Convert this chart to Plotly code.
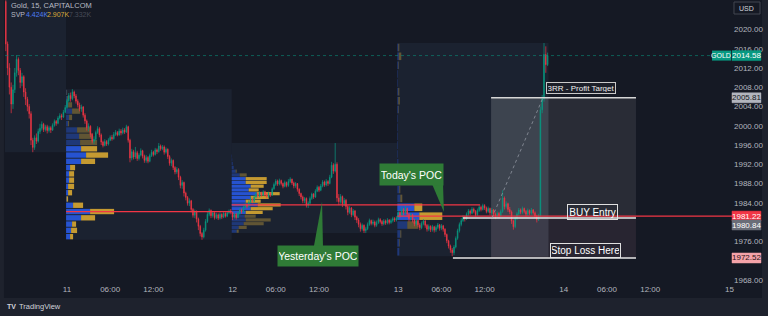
import plotly.graph_objects as go

# ---------------- price data: 15-minute bars ----------------
first_open = 2025.8

d10_close = [2017.0, 2012.0, 2008.0, 2004.5, 2007.5, 2011.0, 2013.8, 2011.5, 2009.0, 2010.2,
             2007.0, 2005.5, 2004.0, 2002.5, 1997.0, 1995.5, 1997.5, 1996.8, 1998.8, 1999.5,
             2000.3, 1999.2, 1999.8, 1999.0, 1999.6, 1999.1, 2000.1, 2000.9, 2000.5, 2001.6,
             2002.1, 2001.8, 2002.8, 2003.8]
d10_high = [2026.1, 2017.5, 2013.0, 2009.0, 2008.5, 2012.0, 2014.7, 2014.2, 2012.0, 2011.0,
            2010.5, 2007.8, 2006.0, 2004.5, 2003.0, 1997.5, 1998.0, 1998.4, 1999.4, 2000.4,
            2000.9, 2000.6, 2000.2, 2000.2, 2000.0, 1999.9, 2000.5, 2001.3, 2001.2, 2002.0,
            2002.6, 2002.5, 2003.3, 2004.3]
d10_low = [2015.5, 2010.5, 2006.5, 2002.6, 2003.5, 2006.8, 2010.2, 2010.5, 2007.8, 2008.2,
           2006.0, 2004.3, 2003.0, 2001.5, 1996.0, 1994.5, 1995.0, 1996.2, 1996.5, 1998.3,
           1999.0, 1998.7, 1998.8, 1998.4, 1998.6, 1998.5, 1998.9, 1999.8, 2000.0, 2000.3,
           2001.3, 2001.2, 2001.6, 2002.6]

d11_close = [2005.2, 2006.3, 2005.6, 2007.0, 2006.2, 2005.1, 2004.3, 2003.5, 2003.9, 2002.2,
             2001.0, 1999.6, 1999.9, 1998.2, 1996.8, 1997.2, 1998.6, 1999.4, 1998.1, 1996.6,
             1995.9, 1996.7, 1996.2, 1997.0, 1997.6, 1997.3, 1998.2, 1998.6, 1998.1, 1998.9,
             1998.5, 1999.1, 1998.7, 1999.8, 1997.0, 1993.3, 1994.6, 1993.5, 1994.4, 1993.2,
             1993.9, 1994.8, 1993.7, 1992.8, 1993.4, 1992.6, 1993.8, 1994.5, 1994.0, 1995.0,
             1994.6, 1995.8, 1995.2, 1995.6, 1994.5, 1995.1, 1993.6, 1992.2, 1992.8, 1991.3,
             1990.4, 1990.9, 1989.3, 1987.6, 1988.2, 1986.0, 1985.1, 1983.9, 1984.4, 1982.6,
             1981.4, 1982.2, 1980.6, 1979.1, 1977.6, 1976.9, 1978.3, 1980.1, 1981.6, 1982.4,
             1981.3, 1981.9, 1980.9, 1981.5, 1980.8, 1981.6, 1981.0, 1981.8, 1981.2, 1981.9,
             1982.3, 1982.0]
d11_high = [2005.6, 2006.8, 2006.9, 2007.6, 2007.3, 2006.6, 2005.5, 2004.8, 2004.4, 2004.1,
            2002.6, 2001.3, 2000.5, 2000.1, 1998.5, 1997.8, 1999.0, 1999.9, 1999.7, 1998.4,
            1996.9, 1997.2, 1997.0, 1997.4, 1998.0, 1998.1, 1998.7, 1999.1, 1998.9, 1999.4,
            1999.3, 1999.6, 1999.5, 2000.2, 2000.0, 1997.3, 1995.2, 1995.0, 1995.6, 1994.8,
            1994.3, 1995.3, 1995.0, 1994.0, 1993.9, 1993.7, 1994.2, 1995.0, 1994.8, 1995.4,
            1995.3, 1996.4, 1996.1, 1996.0, 1995.9, 1995.5, 1995.3, 1993.9, 1993.2, 1993.0,
            1991.6, 1991.4, 1991.2, 1989.6, 1988.7, 1988.4, 1986.3, 1985.4, 1984.9, 1984.6,
            1982.9, 1982.6, 1982.4, 1980.9, 1979.4, 1977.9, 1978.8, 1980.6, 1982.2, 1982.8,
            1982.6, 1982.3, 1982.1, 1981.9, 1981.8, 1982.0, 1981.8, 1982.2, 1982.0, 1982.3,
            1982.6, 1982.7]
d11_low = [2003.5, 2004.9, 2005.0, 2005.3, 2005.7, 2004.6, 2003.8, 2003.0, 2002.9, 2001.7,
           2000.4, 1999.0, 1998.9, 1997.6, 1996.3, 1996.2, 1996.9, 1998.3, 1997.6, 1996.0,
           1995.5, 1995.7, 1995.8, 1995.9, 1996.8, 1996.9, 1997.1, 1997.9, 1997.8, 1997.9,
           1998.0, 1998.2, 1998.3, 1998.5, 1996.5, 1992.4, 1992.8, 1993.0, 1993.1, 1992.7,
           1992.8, 1993.6, 1993.2, 1992.3, 1992.3, 1992.2, 1992.4, 1993.5, 1993.6, 1993.8,
           1994.1, 1994.4, 1994.8, 1994.9, 1994.0, 1994.2, 1993.1, 1991.7, 1991.6, 1990.8,
           1989.9, 1990.0, 1988.7, 1987.0, 1986.9, 1985.3, 1984.5, 1983.4, 1983.3, 1982.0,
           1980.9, 1980.8, 1979.9, 1978.3, 1977.0, 1976.3, 1976.6, 1978.0, 1979.8, 1981.2,
           1980.8, 1980.9, 1980.5, 1980.6, 1980.4, 1980.5, 1980.6, 1980.8, 1980.9, 1981.0,
           1981.6, 1981.6]

d12_close = [1981.0, 1981.6, 1980.9, 1981.8, 1982.5, 1982.1, 1983.0, 1983.6, 1983.2, 1984.1,
             1984.7, 1984.3, 1985.2, 1985.8, 1985.4, 1986.1, 1985.6, 1986.3, 1985.7, 1985.3,
             1986.0, 1985.6, 1986.9, 1987.8, 1988.5, 1987.9, 1988.6, 1988.0, 1987.4, 1988.2,
             1987.6, 1988.4, 1988.9, 1988.1, 1987.5, 1988.0, 1986.8, 1985.9, 1985.2, 1984.4,
             1984.9, 1983.5, 1983.9, 1984.9, 1985.8, 1985.2, 1986.4, 1987.2, 1986.6, 1987.5,
             1988.3, 1987.7, 1988.4, 1988.0, 1989.3, 1991.8, 1990.6, 1992.0, 1985.0, 1984.2,
             1985.3, 1983.8, 1984.5, 1983.2, 1982.0, 1982.9, 1981.5, 1982.3, 1981.0, 1980.4,
             1979.5, 1978.6, 1979.3, 1978.2, 1978.6, 1979.5, 1980.3, 1979.7, 1980.0, 1979.3,
             1979.9, 1980.5, 1980.1, 1979.6, 1980.2, 1979.8, 1980.4, 1979.9, 1980.3, 1980.7,
             1980.4, 1980.8]
d12_high = [1982.1, 1982.0, 1981.9, 1982.2, 1982.9, 1982.8, 1983.4, 1984.0, 1983.9, 1984.5,
            1985.1, 1985.0, 1985.6, 1986.2, 1986.1, 1986.4, 1986.3, 1986.6, 1986.5, 1986.0,
            1986.3, 1986.2, 1987.2, 1988.2, 1988.9, 1988.8, 1989.0, 1988.8, 1988.2, 1988.6,
            1988.4, 1988.9, 1989.3, 1989.0, 1988.4, 1988.3, 1988.1, 1987.0, 1986.1, 1985.5,
            1985.2, 1985.1, 1984.3, 1985.3, 1986.1, 1986.0, 1986.8, 1987.6, 1987.5, 1987.9,
            1988.7, 1988.6, 1988.9, 1988.7, 1989.8, 1992.5, 1992.2, 1996.4, 1992.4, 1985.8,
            1985.8, 1985.5, 1985.0, 1984.8, 1983.5, 1983.3, 1983.1, 1982.7, 1982.5, 1981.3,
            1980.8, 1979.9, 1979.7, 1979.5, 1979.0, 1979.9, 1980.7, 1980.5, 1980.5, 1980.3,
            1980.3, 1980.9, 1980.8, 1980.4, 1980.6, 1980.5, 1980.8, 1980.6, 1980.7, 1981.1,
            1981.0, 1981.2]
d12_low = [1980.4, 1980.7, 1980.5, 1980.8, 1981.5, 1981.7, 1981.9, 1982.8, 1982.8, 1983.0,
           1983.9, 1983.9, 1984.1, 1984.9, 1985.0, 1985.1, 1985.2, 1985.4, 1985.3, 1984.9,
           1985.0, 1985.2, 1985.4, 1986.7, 1987.5, 1987.5, 1987.6, 1987.6, 1987.0, 1987.2,
           1987.2, 1987.3, 1988.1, 1987.7, 1987.0, 1987.1, 1986.3, 1985.4, 1984.7, 1983.9,
           1983.9, 1983.0, 1982.9, 1983.6, 1984.6, 1984.8, 1985.0, 1986.2, 1986.2, 1986.4,
           1987.2, 1987.3, 1987.4, 1987.5, 1987.8, 1989.1, 1990.0, 1990.3, 1984.2, 1983.5,
           1983.8, 1983.1, 1983.3, 1982.6, 1981.4, 1981.7, 1981.0, 1981.2, 1980.4, 1979.8,
           1978.9, 1978.0, 1978.2, 1977.7, 1977.7, 1978.3, 1979.2, 1979.3, 1979.3, 1978.9,
           1979.0, 1979.6, 1979.7, 1979.2, 1979.3, 1979.4, 1979.5, 1979.5, 1979.6, 1979.9,
           1980.0, 1980.1]

d13_close = [1982.0, 1981.4, 1982.6, 1981.9, 1982.8, 1981.6, 1980.7, 1981.5, 1980.4, 1979.6,
             1980.3, 1979.4, 1978.8, 1979.7, 1980.2, 1979.3, 1978.5, 1979.1, 1978.4, 1979.0,
             1978.3, 1978.9, 1979.4, 1978.7, 1979.2, 1978.5, 1977.4, 1976.1, 1975.0, 1974.2,
             1973.6, 1974.8, 1976.6, 1978.2, 1979.5, 1980.3, 1981.0, 1980.6, 1981.6, 1982.3,
             1981.8, 1982.7, 1982.2, 1981.5, 1982.4, 1983.1, 1982.6, 1983.4, 1982.9, 1982.2,
             1982.8, 1981.9, 1982.5, 1981.6, 1981.1, 1981.8, 1981.3, 1982.2, 1985.0, 1983.2,
             1983.8, 1982.6, 1982.1, 1980.2, 1979.0, 1980.8, 1981.7, 1982.5, 1982.0, 1982.8,
             1982.2, 1981.6, 1982.4, 1981.8, 1982.5, 1981.9, 1981.2, 1980.5, 1981.3, 2003.3,
             2005.6, 2014.8, 2012.7, 2014.58]
d13_high = [1982.5, 1982.3, 1983.2, 1982.9, 1983.4, 1983.0, 1981.9, 1981.9, 1981.7, 1980.7,
            1980.7, 1980.5, 1979.8, 1980.1, 1980.6, 1980.4, 1979.6, 1979.5, 1979.3, 1979.4,
            1979.2, 1979.3, 1979.8, 1979.6, 1979.6, 1979.4, 1978.7, 1977.6, 1976.3, 1975.3,
            1974.6, 1975.2, 1977.0, 1978.6, 1979.9, 1980.8, 1981.4, 1981.3, 1982.0, 1982.7,
            1982.6, 1983.1, 1983.0, 1982.5, 1982.8, 1983.5, 1983.4, 1983.8, 1983.7, 1983.2,
            1983.2, 1983.0, 1982.9, 1982.7, 1982.0, 1982.2, 1982.1, 1982.6, 1986.6, 1985.3,
            1984.3, 1984.0, 1983.1, 1982.4, 1980.5, 1981.2, 1982.1, 1982.9, 1982.8, 1983.2,
            1983.0, 1982.5, 1982.8, 1982.6, 1982.9, 1982.7, 1982.2, 1981.5, 1981.7, 2004.0,
            2006.4, 2017.2, 2016.5, 2015.2]
d13_low = [1980.5, 1980.9, 1981.2, 1981.4, 1981.6, 1981.0, 1980.1, 1980.3, 1979.9, 1979.1,
           1979.2, 1978.9, 1978.3, 1978.5, 1979.3, 1978.8, 1978.0, 1978.1, 1977.9, 1978.0,
           1977.8, 1977.9, 1978.5, 1978.2, 1978.3, 1978.0, 1976.9, 1975.6, 1974.5, 1973.6,
           1972.9, 1973.1, 1974.5, 1976.3, 1977.8, 1979.1, 1980.0, 1980.1, 1980.4, 1981.3,
           1981.4, 1981.6, 1981.8, 1981.1, 1981.3, 1982.1, 1982.2, 1982.4, 1982.5, 1981.8,
           1981.9, 1981.4, 1981.5, 1981.1, 1980.6, 1980.9, 1980.8, 1981.0, 1981.9, 1982.6,
           1982.8, 1982.1, 1981.6, 1979.6, 1978.4, 1978.7, 1980.4, 1981.3, 1981.6, 1981.7,
           1981.8, 1981.1, 1981.3, 1981.4, 1981.5, 1981.5, 1980.8, 1979.9, 1980.2, 1981.0,
           2002.6, 2005.0, 2011.0, 2012.4]

d10_session_high = 2031.0   # high of the 10th session (above the visible range)

# ---------------- session volume profiles (24 rows, top row first) ----------------
d11_up = [0.5, 1, 2, 6, 3, 2, 11, 13, 14, 15, 20, 15, 4, 3, 3, 2, 2, 0.5, 7, 24, 15, 6, 5, 4]
d11_dn = [0.5, 1, 4, 8, 3, 1, 13, 13, 17, 16, 22, 14, 5, 5, 5, 6, 4, 1.5, 10, 24, 14, 4, 6, 3]
d12_up = [0, 0, 0, 0.3, 0.5, 1, 2, 4, 8, 14, 14, 19, 17, 25, 19, 14, 26, 19, 14, 13, 14, 12, 7, 5]
d12_dn = [0, 0, 0, 0, 0, 0, 0, 1, 7, 21, 21, 13, 10, 23, 18, 15, 23, 22, 17, 11, 25, 20, 8, 2]
d13_up = [1, 1.5, 1, 0.5, 0.5, 1, 1, 1, 0.5, 0.5, 0.5, 0.5, 0.5, 1, 1, 1.5, 2, 3, 17, 22, 10, 3, 2, 2]
d13_dn = [1, 2.5, 0.5, 0, 0, 1, 1.5, 0.5, 0, 0, 0, 0, 0, 0, 0.5, 0.5, 1, 2, 8, 23, 11, 1, 0.5, 0]
value_area_rows = [(9, 23), (9, 18), (18, 19)]

svp_up_total, svp_dn_total, svp_total = "4.424K", "2.907K", "7.332K"

# ---------------- levels / labels ----------------
last_price = 2014.58
target_price = 2005.81
today_poc = 1981.22
entry_price = 1980.84
stop_price = 1972.52

tick_labels = ["11", "06:00", "12:00", "12", "06:00", "12:00", "13", "06:00", "12:00",
               "14", "06:00", "12:00", "15"]
tick_hours = [0, 6, 12]
price_ticks = [1968, 1976, 1984, 1988, 1992, 1996, 2000, 2004, 2008, 2012, 2016, 2020]

# ---------------- style ----------------
BG = "#151924"
FRAME = "#1e222d"
UP = "#089981"
DN = "#f23645"
TXT = "#b2b5be"
AXF = "Liberation Sans Narrow, Arial Narrow, sans-serif"
CF = "Liberation Sans, Arial, sans-serif"
BARS_PER_SESSION = 92
BARS_PER_HOUR = 4
VOL_SCALE = 1 / 1.8
X_RANGE = [-0.44, 404.0]
Y_RANGE = [1967.32, 2026.13]

# ---------------- build series ----------------
closes = d10_close + d11_close + d12_close + d13_close
highs = d10_high + d11_high + d12_high + d13_high
lows = d10_low + d11_low + d12_low + d13_low
opens = [first_open] + closes[:-1]
bars = list(range(len(closes)))

sizes = [len(d10_close), len(d11_close), len(d12_close), len(d13_close)]
starts = [sum(sizes[:i]) for i in range(4)]
ends = [starts[i] + sizes[i] for i in range(4)]

fig = go.Figure()
shapes = []
annotations = []

# pane background (covers price/time axis areas)
shapes.append(dict(type="rect", xref="paper", yref="paper", x0=-0.0014, x1=1.0398,
                   y0=-0.053, y1=1.0, fillcolor=BG, line_width=0, layer="below"))

# session boxes
for i in range(4):
    s, e = starts[i], ends[i]
    lo = min(lows[s:e])
    hi = d10_session_high if i == 0 else max(highs[s:e])
    shapes.append(dict(type="rect", xref="x", yref="y", x0=s - 0.5, x1=e - 0.5, y0=lo, y1=hi,
                       fillcolor="rgba(120,160,220,0.065)", line_width=0, layer="below"))

# position tool zones
pos_x0, pos_x1 = 269.6, 350.1
cur_x = len(closes) - 0.5
shapes.append(dict(type="rect", xref="x", yref="y", x0=pos_x0, x1=pos_x1, y0=entry_price,
                   y1=target_price, fillcolor="rgba(255,255,255,0.085)", line_width=0, layer="below"))
shapes.append(dict(type="rect", xref="x", yref="y", x0=pos_x0, x1=pos_x1, y0=stop_price,
                   y1=entry_price, fillcolor="rgba(235,165,190,0.09)", line_width=0, layer="below"))
shapes.append(dict(type="rect", xref="x", yref="y", x0=pos_x0, x1=cur_x, y0=stop_price,
                   y1=target_price, fillcolor="rgba(255,255,255,0.075)", line_width=0, layer="below"))

# volume profiles
profiles = [(d11_up, d11_dn), (d12_up, d12_dn), (d13_up, d13_dn)]
poc_prices = []
for j, (up, dn) in enumerate(profiles):
    s, e = starts[j + 1], ends[j + 1]
    lo, hi = min(lows[s:e]), max(highs[s:e])
    nrow = len(up)
    rh = (hi - lo) / nrow
    centers = [hi - (k + 0.5) * rh for k in range(nrow)]
    va0, va1 = value_area_rows[j]
    up_w = [v * VOL_SCALE for v in up]
    dn_w = [v * VOL_SCALE for v in dn]
    cu = ["rgba(41,98,255,0.78)" if va0 <= k <= va1 else "rgba(41,98,255,0.35)" for k in range(nrow)]
    cd = ["rgba(240,185,50,0.80)" if va0 <= k <= va1 else "rgba(240,190,60,0.33)" for k in range(nrow)]
    base = s - 0.5
    fig.add_trace(go.Bar(orientation="h", y=centers, x=up_w, base=base, width=rh * 0.85,
                         marker=dict(color=cu, line=dict(width=0)), hoverinfo="skip"))
    fig.add_trace(go.Bar(orientation="h", y=centers, x=dn_w, base=[base + w for w in up_w],
                         width=rh * 0.85, marker=dict(color=cd, line=dict(width=0)), hoverinfo="skip"))
    tot = [a + b for a, b in zip(up, dn)]
    poc_prices.append(centers[tot.index(max(tot))])

# candles
fig.add_trace(go.Candlestick(x=bars, open=opens, high=highs, low=lows, close=closes,
                             increasing=dict(line=dict(color=UP, width=0.7), fillcolor=UP),
                             decreasing=dict(line=dict(color=DN, width=0.7), fillcolor=DN),
                             whiskerwidth=0, hoverinfo="skip"))

# POC lines
shapes.append(dict(type="line", xref="x", yref="y", x0=starts[1] - 0.5, x1=ends[1] - 0.5,
                   y0=poc_prices[0], y1=poc_prices[0], line=dict(color=DN, width=1.3)))
shapes.append(dict(type="line", xref="x", yref="y", x0=starts[2] - 0.5, x1=263.5,
                   y0=poc_prices[1], y1=poc_prices[1], line=dict(color=DN, width=1.2)))
shapes.append(dict(type="line", xref="x", yref="y", x0=starts[3] - 0.5, x1=X_RANGE[1],
                   y0=today_poc, y1=today_poc, line=dict(color=DN, width=1.2)))

# last price dotted line
shapes.append(dict(type="line", xref="paper", yref="y", x0=0, x1=0.9712, y0=last_price,
                   y1=last_price, line=dict(color="rgba(8,153,129,0.55)", width=1, dash="dot")))

# white level lines
shapes.append(dict(type="line", xref="x", yref="y", x0=pos_x0, x1=pos_x1, y0=target_price,
                   y1=target_price, line=dict(color="#d6d6d6", width=1.5)))
shapes.append(dict(type="line", xref="x", yref="y", x0=254.0, x1=pos_x1, y0=entry_price,
                   y1=entry_price, line=dict(color="#e6e6e6", width=1.5)))
shapes.append(dict(type="line", xref="x", yref="y", x0=248.4, x1=pos_x1, y0=stop_price,
                   y1=stop_price, line=dict(color="#e6e6e6", width=1.5)))
# dotted path entry -> target
shapes.append(dict(type="line", xref="x", yref="y", x0=270.1, x1=298.4, y0=entry_price,
                   y1=target_price, line=dict(color="rgba(150,155,165,0.75)", width=1, dash="dot")))

# green callouts: tails
GREEN = "#2f7b36"
shapes.append(dict(type="path", xref="x", yref="y",
                   path="M 236.8 1987.9 L 242.9 1987.9 L 243.4 1982.1 Z",
                   fillcolor=GREEN, line_width=0))
shapes.append(dict(type="path", xref="x", yref="y",
                   path="M 171.2 1975.0 L 176.2 1975.0 L 175.7 1984.2 Z",
                   fillcolor=GREEN, line_width=0))
annotations.append(dict(x=225.4, y=1989.9, xref="x", yref="y", text="Today's POC", showarrow=False,
                        font=dict(family=CF, size=10.5, color="#ffffff"), bgcolor=GREEN,
                        width=61, height=19, borderpad=1))
annotations.append(dict(x=173.4, y=1972.95, xref="x", yref="y", text="Yesterday's POC", showarrow=False,
                        font=dict(family=CF, size=10.5, color="#ffffff"), bgcolor=GREEN,
                        width=78, height=18, borderpad=1))

# boxed labels
annotations.append(dict(x=319.6, y=2007.85, xref="x", yref="y", text="3RR - Profit Target",
                        showarrow=False, font=dict(family=CF, size=8, color="#eeeeee"),
                        bgcolor="#1c1f29", bordercolor="#c9c9c9", borderwidth=1, borderpad=1,
                        width=66, height=8))
annotations.append(dict(x=325.9, y=1982.1, xref="x", yref="y", text="BUY Entry",
                        showarrow=False, font=dict(family=CF, size=10, color="#ffffff"),
                        bordercolor="#e0e0e0", borderwidth=1, borderpad=1, width=47, height=12))
annotations.append(dict(x=322.1, y=1974.1, xref="x", yref="y", text="Stop Loss Here",
                        showarrow=False, font=dict(family=CF, size=10, color="#ffffff"),
                        bordercolor="#e0e0e0", borderwidth=1, borderpad=1, width=67, height=11))

# price-scale labels
LX0, LX1, LXC = 0.99863, 1.03846, 1.01854
LH = 1.04
entry_label_y = today_poc - 1.85
price_labels = [
    (last_price, last_price, UP, "#ffffff"),
    (target_price, target_price, "#b2b5be", "#131722"),
    (today_poc, today_poc, DN, "#ffffff"),
    (entry_price, entry_label_y, "#6a6d78", "#ffffff"),
    (stop_price, stop_price, "#f5a3a9", "#2a1216"),
]
for val, yc, bg, fg in price_labels:
    shapes.append(dict(type="rect", xref="paper", yref="y", x0=LX0, x1=LX1, y0=yc - LH, y1=yc + LH,
                       fillcolor=bg, line=dict(color=bg, width=0.5), layer="above"))
    annotations.append(dict(x=LXC, y=yc, xref="paper", yref="y", text=f"{val:.2f}", showarrow=False,
                            xanchor="center", yanchor="middle",
                            font=dict(family=AXF, size=8, color=fg)))
shapes.append(dict(type="rect", xref="paper", yref="y", x0=0.9712, x1=0.99725,
                   y0=last_price - LH, y1=last_price + LH, fillcolor=UP, line_width=0, layer="above"))
annotations.append(dict(x=0.9842, y=last_price, xref="paper", yref="y", text="GOLD", showarrow=False,
                        xanchor="center", yanchor="middle",
                        font=dict(family=AXF, size=7, color="#ffffff")))

# USD box
shapes.append(dict(type="rect", xref="paper", yref="paper", x0=1.00137, x1=1.03709, y0=0.9505,
                   y1=0.9929, fillcolor=BG, line=dict(color="#434651", width=1), layer="above"))
annotations.append(dict(x=1.01923, y=0.9717, xref="paper", yref="paper", text="USD", showarrow=False,
                        xanchor="center", yanchor="middle",
                        font=dict(family=AXF, size=7, color="#d1d4dc")))

# legend header
hdr = [("Gold, 15, CAPITALCOM", 0.00549, 0.9788, "#b8bbc4", 7.5),
       ("SVP", 0.00549, 0.9470, "#b8bbc4", 7),
       (svp_up_total, 0.02610, 0.9470, "#4d7cf5", 7),
       (svp_dn_total, 0.05495, 0.9470, "#d9a93a", 7),
       (svp_total, 0.08516, 0.9470, "#474b57", 7)]
for t, x, y, c, fs in hdr:
    annotations.append(dict(x=x, y=y, xref="paper", yref="paper", text=t, showarrow=False,
                            xanchor="left", yanchor="middle", font=dict(family=AXF, size=fs, color=c)))

# footer
annotations.append(dict(x=0.0000, y=-0.0848, xref="paper", yref="paper", text="<b>TV</b>",
                        showarrow=False, xanchor="left", yanchor="middle",
                        font=dict(family=CF, size=7, color="#d1d4dc")))
annotations.append(dict(x=0.0165, y=-0.0848, xref="paper", yref="paper", text="TradingView",
                        showarrow=False, xanchor="left", yanchor="middle",
                        font=dict(family=AXF, size=7.5, color="#d1d4dc")))

# x ticks
tickvals = []
for d in range(len(tick_labels) // 3 + 1):
    day0 = starts[1] + d * BARS_PER_SESSION
    for h in tick_hours:
        if len(tickvals) < len(tick_labels):
            tickvals.append(day0 + h * BARS_PER_HOUR)

fig.update_layout(
    width=768, height=316,
    margin=dict(l=5, r=35, t=0, b=33),
    paper_bgcolor=FRAME, plot_bgcolor=BG,
    showlegend=False, barmode="overlay", hovermode=False, boxgap=0.45,
    shapes=shapes, annotations=annotations,
    xaxis=dict(range=X_RANGE, showgrid=False, zeroline=False, showline=False,
               tickvals=tickvals, ticktext=tick_labels, ticks="",
               tickfont=dict(family=AXF, size=8, color=TXT), rangeslider=dict(visible=False),
               fixedrange=True),
    yaxis=dict(range=Y_RANGE, side="right", showgrid=False, zeroline=False, showline=False,
               tickvals=price_ticks, tickformat=".2f", ticks="",
               tickfont=dict(family=AXF, size=8, color=TXT), fixedrange=True),
)

fig.write_html("out.html")
